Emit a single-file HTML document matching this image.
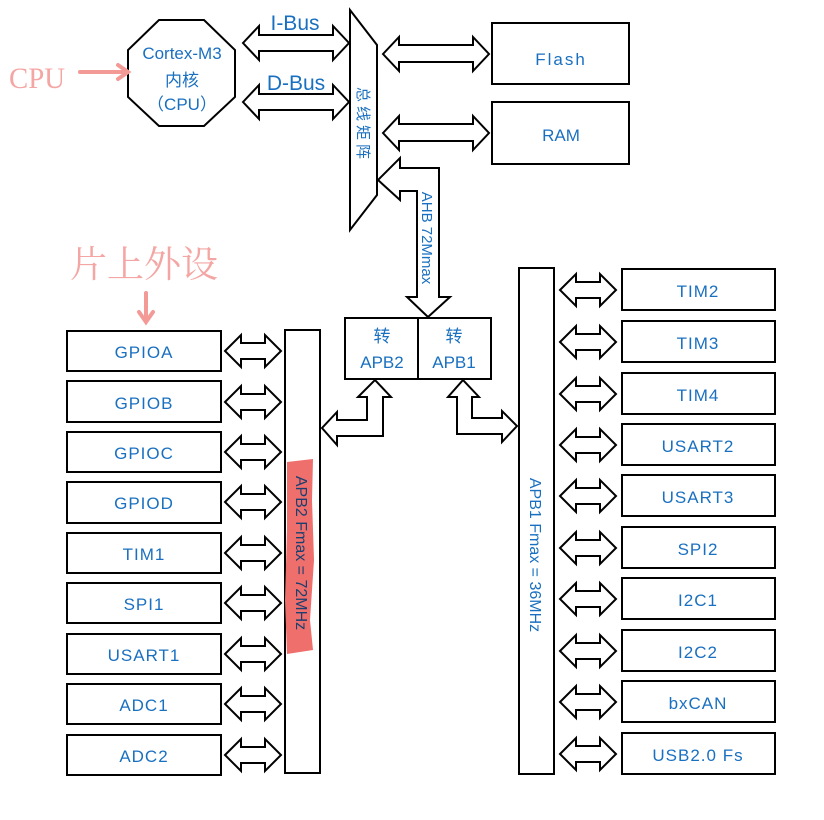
<!DOCTYPE html>
<html><head><meta charset="utf-8"><style>
html,body{margin:0;padding:0;background:#fff;}
svg{display:block;}
.t{font-family:"Liberation Sans","Noto Sans CJK SC",sans-serif;fill:#1a70c0;}
</style></head><body>
<svg width="824" height="820" viewBox="0 0 824 820" xmlns="http://www.w3.org/2000/svg">
<defs>
<path id="a56" d="M0 0 L16 -16 L16 -8 L40 -8 L40 -16 L56 0 L40 16 L40 8 L16 8 L16 16 Z" fill="#fff" stroke="#000" stroke-width="2"/>
</defs>
<g fill="#fff" stroke="#000" stroke-width="2">
<polygon points="159,20 204,20 235,50 235,97 204,126 159,126 128,97 128,50"/>
<path d="M243 43 L259 26 L259 35 L333 35 L333 26 L349 43 L333 60 L333 51 L259 51 L259 60 Z"/>
<path d="M243 102 L259 85 L259 94 L333 94 L333 85 L349 102 L333 119 L333 110 L259 110 L259 119 Z"/>
<path d="M383 54 L399 37 L399 45 L473 45 L473 37 L489 54 L473 71 L473 62 L399 62 L399 71 Z"/>
<path d="M383 133 L399 116 L399 124 L473 124 L473 116 L489 133 L473 150 L473 141 L399 141 L399 150 Z"/>
<polygon points="350,10 377,45 377,195 350,230"/>
<rect x="492" y="23" width="137" height="61"/>
<rect x="492" y="102" width="137" height="62"/>
<polygon points="378,180 400,158 400,168 439,168 439,297 450,297 428,317 407,297 417,297 417,191 400,191 400,200"/>
<rect x="345" y="318" width="146" height="61"/>
<line x1="418" y1="318" x2="418" y2="379"/>
<polygon points="375,380 391,397 383,397 383,436 337,436 337,445 322,428 337,412 337,420 367,420 367,397 358,397"/>
<polygon points="463,380 479,397 472,397 472,418 502,418 502,411 517,426 502,442 502,434 457,434 457,397 448,397"/>
<rect x="285" y="330" width="35" height="443"/>
<rect x="519" y="268" width="35" height="506"/>
<rect x="67" y="331" width="154" height="40"/>
<rect x="67" y="381" width="154" height="41"/>
<rect x="67" y="432" width="154" height="40"/>
<rect x="67" y="482" width="154" height="41"/>
<rect x="67" y="533" width="154" height="40"/>
<rect x="67" y="583" width="154" height="40"/>
<rect x="67" y="634" width="154" height="40"/>
<rect x="67" y="684" width="154" height="40"/>
<rect x="67" y="735" width="154" height="40"/>
<rect x="622" y="269" width="153" height="41"/>
<rect x="622" y="321" width="153" height="41"/>
<rect x="622" y="373" width="153" height="41"/>
<rect x="622" y="424" width="153" height="41"/>
<rect x="622" y="475" width="153" height="41"/>
<rect x="622" y="527" width="153" height="41"/>
<rect x="622" y="578" width="153" height="41"/>
<rect x="622" y="630" width="153" height="41"/>
<rect x="622" y="681" width="153" height="41"/>
<rect x="622" y="733" width="153" height="41"/>
</g>
<use href="#a56" x="225" y="351"/><use href="#a56" x="225" y="402"/><use href="#a56" x="225" y="452"/>
<use href="#a56" x="225" y="502"/><use href="#a56" x="225" y="553"/><use href="#a56" x="225" y="603"/>
<use href="#a56" x="225" y="654"/><use href="#a56" x="225" y="704"/><use href="#a56" x="225" y="755"/>
<use href="#a56" x="560" y="290"/><use href="#a56" x="560" y="342"/><use href="#a56" x="560" y="394"/>
<use href="#a56" x="560" y="445"/><use href="#a56" x="560" y="496"/><use href="#a56" x="560" y="548"/>
<use href="#a56" x="560" y="599"/><use href="#a56" x="560" y="651"/><use href="#a56" x="560" y="702"/>
<use href="#a56" x="560" y="754"/>
<path d="M287 462 L313 459 L312 500 L314 560 L310 620 L313 650 L287 654 L285 600 L287 530 Z" fill="#ee6f6c"/>
<g class="t" font-size="17" text-anchor="middle">
<text x="182" y="59">Cortex-M3</text>
<text x="182" y="86">内核</text>
<text x="182" y="110">（CPU）</text>
<text x="295" y="30" font-size="21">I-Bus</text>
<text x="296" y="90" font-size="21">D-Bus</text>
<text x="561" y="65" letter-spacing="2">Flash</text>
<text x="561" y="141">RAM</text>
<text x="382" y="342">转</text><text x="382" y="368">APB2</text>
<text x="454" y="342">转</text><text x="454" y="368">APB1</text>
<g letter-spacing="1">
<text x="144" y="358">GPIOA</text><text x="144" y="409">GPIOB</text><text x="144" y="459">GPIOC</text>
<text x="144" y="509">GPIOD</text><text x="144" y="560">TIM1</text><text x="144" y="610">SPI1</text>
<text x="144" y="661">USART1</text><text x="144" y="711">ADC1</text><text x="144" y="762">ADC2</text>
<text x="698" y="297">TIM2</text><text x="698" y="349">TIM3</text><text x="698" y="401">TIM4</text>
<text x="698" y="452">USART2</text><text x="698" y="503">USART3</text><text x="698" y="555">SPI2</text>
<text x="698" y="606">I2C1</text><text x="698" y="658">I2C2</text><text x="698" y="709">bxCAN</text>
<text x="698" y="761">USB2.0 Fs</text>
</g>
<text transform="translate(358,125) rotate(90)" font-size="15" letter-spacing="4">总线矩阵</text>
<text transform="translate(422,238) rotate(90)" font-size="15">AHB 72Mmax</text>
<text transform="translate(296,553) rotate(90)" font-size="16" fill="#1a3f70">APB2 Fmax = 72MHz</text>
<text transform="translate(530,555) rotate(90)" font-size="16">APB1 Fmax = 36MHz</text>
</g>
<text x="9" y="88" font-size="30" font-family="Liberation Serif, serif" fill="#f4a6a4" textLength="56" lengthAdjust="spacingAndGlyphs">CPU</text>
<text x="70" y="277" font-size="37" font-family="Noto Serif CJK SC, serif" fill="#f4a6a4">片上外设</text>
<g stroke="#f39a97" stroke-width="4" fill="none" stroke-linecap="round">
<line x1="80" y1="72" x2="126" y2="72"/>
<polyline points="118,65 128,72 118,79"/>
<line x1="146" y1="293" x2="146" y2="320"/>
<polyline points="139,312 146,322 153,312"/>
</g>
</svg>
</body></html>
